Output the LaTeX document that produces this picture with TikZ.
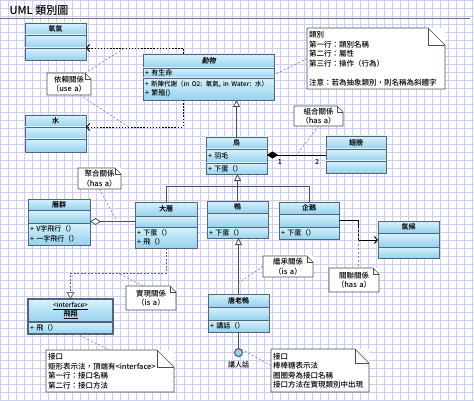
\documentclass[tikz,border=0pt]{standalone}
\usepackage{fontspec}
\setmainfont{Noto Sans CJK TC Medium}[BoldFont={Noto Sans CJK TC Bold},ItalicFont={Noto Sans CJK TC Medium},ItalicFeatures={FakeSlant=0.25},BoldItalicFont={Noto Sans CJK TC Bold},BoldItalicFeatures={FakeSlant=0.25}]
\usetikzlibrary{arrows.meta}
\usetikzlibrary{positioning}

\definecolor{umlline}{RGB}{85,100,120}
\definecolor{umltop}{RGB}{214,241,252}
\definecolor{umlbot}{RGB}{150,210,238}
\definecolor{gridblue}{RGB}{205,207,242}

% class box: name, position, width, head height, title, attributes, attr height, operations, ops height
\newcommand{\umlclass}[9]{%
    \pgfmathsetmacro{\umltw}{#3-4}
    \node [classhead,minimum width=#3pt,minimum height=#4pt,anchor=north west] (#1) at (#2) {#5};
    \node [classpart,text width=\umltw pt,minimum height=#7pt] (#1-a) [below=0pt of #1] {#6};
    \node [classpart,text width=\umltw pt,minimum height=#9pt] (#1-o) [below=0pt of #1-a] {#8};
}
% note with folded corner: name, options, position, width, height, fold, text
\newcommand{\umlnote}[7]{%
    \pgfmathsetmacro{\umltw}{#4-4}
    \node [notebox,#2,text width=\umltw pt,minimum height=#5pt,anchor=north west] (#1) at (#3) {#7};
    \draw [notedraw] (#1.north west) -- ([xshift=-#6pt]#1.north east) -- ([yshift=-#6pt]#1.north east) -- (#1.south east) -- (#1.south west) -- cycle;
    \draw [notedraw] ([xshift=-#6pt]#1.north east) |- ([yshift=-#6pt]#1.north east);
}

\begin{document}
\begin{tikzpicture}[x=1pt,y=-1pt,
    classhead/.style={draw=umlline,line width=0.8pt,top color=umltop,bottom color=umlbot,outer sep=0pt,inner sep=1pt,font=\fontsize{7}{8.5}\selectfont\bfseries},
    classpart/.style={draw=umlline,line width=0.8pt,top color=umltop,bottom color=umlbot,outer sep=0pt,inner xsep=2pt,inner ysep=1pt,align=left,font=\fontsize{7}{9.5}\selectfont},
    notebox/.style={fill=white,outer sep=0pt,inner xsep=2pt,inner ysep=1pt,font=\fontsize{7.5}{9.5}\selectfont},
    notedraw/.style={draw=black!70,line width=0.6pt},
    noteline/.style={draw=black!45,line width=0.7pt,dash pattern=on 2pt off 2pt},
    dep/.style={line width=0.9pt,dash pattern=on 1.5pt off 1.6pt,-{Straight Barb[length=3pt,width=7pt]}},
    gen/.style={draw=black!70,line width=0.8pt,-{Triangle[open,length=7pt,width=7pt,fill=white]}},
    genline/.style={draw=black!70,line width=0.8pt},
    real/.style={draw=black!60,line width=0.8pt,dash pattern=on 2pt off 1.5pt,-{Triangle[open,length=7pt,width=8pt,fill=white]}},
    comp/.style={line width=0.8pt,-{Diamond[length=11pt,width=7pt]}},
    agg/.style={draw=black!70,line width=0.8pt,-{Diamond[open,length=11pt,width=7pt,fill=white]}},
    assoc/.style={line width=1pt,-{Straight Barb[length=3pt,width=7pt]}},
    lolli/.style={circle,draw=umlline,line width=1.2pt,fill=umlbot,minimum size=8pt,inner sep=0pt},
    mult/.style={font=\fontsize{7}{8}\selectfont}]

    \useasboundingbox (0,0) rectangle (474,401);
    \draw [gridblue,line width=0.4pt,step=8pt] (0,0) grid (474,401);

    % title
    \node [font=\fontsize{11}{13}\selectfont,anchor=west] (title) at (6,10) {UML 類別圖};
    \draw [black!55,line width=1pt] (0,19) -- (470,19);

    % classes
    \umlclass{oxygen}{25,23}{61}{12}{氧氣}{}{13}{}{12}
    \umlclass{water}{25,115}{61}{12}{水}{}{12}{}{13}
    \umlclass{animal}{143,54}{131}{14}{\textit{動物}}{+ 有生命}{10}{\mbox{\fontsize{6.5}{9.5}\selectfont + 新陳代謝（in O2: 氧氣, in Water: 水）}\\+ 繁殖()}{22}
    \umlclass{bird}{206,137}{61}{12}{鳥}{+ 羽毛}{14}{+ 下蛋（）}{11}
    \umlclass{wing}{326,136}{60}{13}{翅膀}{}{12}{}{12}
    \umlclass{goose}{135,202}{62}{14}{大雁}{}{11}{+ 下蛋（）\\+ 飛（）}{21}
    \umlclass{duck}{207,201}{61}{12}{鴨}{}{14}{+ 下蛋（）}{11}
    \umlclass{penguin}{279,202}{60}{12}{企鵝}{}{13}{+ 下蛋（）}{12}
    \umlclass{flock}{28,199}{62}{11}{雁群}{}{13}{+ V字飛行（）\\+ 一字飛行（）}{22}
    \umlclass{climate}{378,221}{61}{12}{氣候}{}{14}{}{11}
    \umlclass{donald}{208,294}{61}{13}{唐老鴨}{}{13}{+ 講話（）}{12}

    % interface
    \node [classhead,line width=1.2pt,minimum width=85pt,minimum height=23pt,anchor=north west,align=center] (fly) at (28,299)
        {\underline{\mdseries\fontsize{6.5}{7}\selectfont <interface>}\\\underline{飛翔}};
    \node [classpart,line width=1.2pt,text width=81pt,minimum height=12pt] (fly-o) [below=0pt of fly] {+ 飛（）};

    % dependency
    \draw [dep] ([xshift=40pt]animal.north west) |- node [pos=0.8,coordinate] (dep1) {} (oxygen-o.north east);
    \draw [dep] ([xshift=40pt]animal-o.south west) |- node [pos=0.78,coordinate] (dep2) {} (water-a.north east);

    % generalization
    \draw [gen] (bird.north) -- (bird.north |- animal-o.south);
    \coordinate (genbus) at ([yshift=-12pt]bird-o.south);
    \draw [genline] (goose.north) |- (genbus);
    \draw [genline] (penguin.north) |- (genbus);
    \draw [gen] (duck.north) -- (duck.north |- bird-o.south);
    \draw [gen] (donald.north) -- node [pos=0.2,coordinate] (inh1) {} (donald.north |- duck-o.south);

    % composition and aggregation
    \draw [comp] (wing-a.west) -- node [pos=0.5,coordinate] (comp1) {}
        node [mult,pos=0.15,below=1pt] {2} node [mult,pos=0.78,below=1pt] {1} (wing-a.west -| bird-a.east);
    \draw [agg] (goose-a.west) -- node [pos=0.4,coordinate] (agg1) {} (goose-a.west -| flock.east);

    % realization
    \draw [real] (goose-o.south) -- ++(0,25) -| node [pos=0.25,coordinate] (real1) {} (fly.north);

    % association
    \draw [assoc] (penguin-a.east) -- ++(19,0) |- node [pos=0.2,coordinate] (assoc1) {} (climate-a.west);

    % lollipop
    \node [lolli,label={[font=\fontsize{7}{8}\selectfont,label distance=1pt]below:講人話}] (talk) [below=16pt of donald-o] {};
    \draw [genline] (donald-o.south) -- (talk);

    % notes
    \umlnote{usenote}{align=center}{47,73}{44}{22}{6}{依賴關係\\（use a）}
    \umlnote{classnote}{align=left}{307,28}{138}{61}{17}{類別\\第一行：類別名稱\\第二行：屬性\\第三行：操作（行為）\\[9.5pt]注意：若為抽象類別，則名稱為斜體字}
    \umlnote{compnote}{align=center}{294,106}{49}{20}{6}{組合關係\\（has a）}
    \umlnote{aggnote}{align=center}{78,168}{43}{21}{6}{聚合關係\\（has a）}
    \umlnote{assocnote}{align=center}{329,268}{50}{24}{6}{關聯關係\\（has a）}
    \umlnote{inhnote}{align=center}{263,256}{50}{21}{6}{繼承關係\\（is a）}
    \umlnote{realnote}{align=center}{126,286}{50}{24}{6}{實現關係\\（is a）}
    \umlnote{ifacenote}{align=left}{46,350}{128}{42}{17}{接口\\矩形表示法，頂端有<interface>\\第一行：接口名稱\\第二行：接口方法}
    \umlnote{lollinote}{align=left}{271,349}{98}{43}{14}{接口\\棒棒糖表示法\\圈圈旁為接口名稱\\接口方法在實現類別中出現}

    % note anchors
    \draw [noteline] ([xshift=-6pt]usenote.north east) -- (dep1);
    \draw [noteline] ([xshift=11pt]usenote.south) -- (dep2);
    \draw [noteline] (classnote.west) -- ([yshift=-2pt]animal-a.east);
    \draw [noteline] (compnote.south) -- (comp1);
    \draw [noteline] (aggnote.south) -- (agg1);
    \draw [noteline] (assoc1) -- (assoc1 |- assocnote.north);
    \draw [noteline] (inhnote.west) -- (inh1);
    \draw [noteline] ([xshift=17pt]realnote.north west) -- (real1);
    \draw [noteline] ([xshift=6pt]fly-o.south) -- (ifacenote.north);
    \draw [noteline] ([yshift=5pt]lollinote.west) -- (talk.north east);
\end{tikzpicture}
\end{document}
